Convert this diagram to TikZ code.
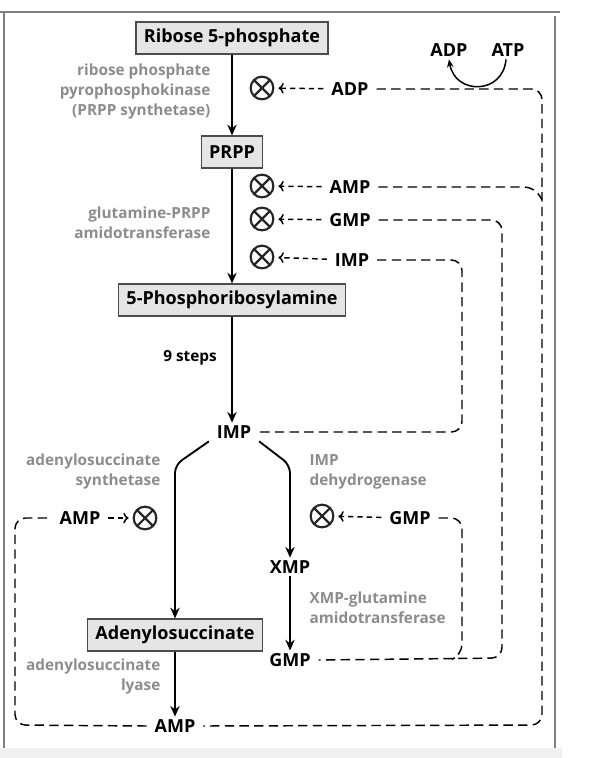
\documentclass[tikz,border=0pt]{standalone}
\usepackage{fontspec}
\setmainfont{Open Sans}
\usetikzlibrary{arrows.meta}
\definecolor{enzgray}{HTML}{8C8C8C}
\tikzset{
	cpd/.style={font=\bfseries\fontsize{13.5}{16}\selectfont, inner sep=2pt, outer xsep=4pt},
	box/.style={cpd, draw=black!70, fill=black!10, minimum height=24pt, inner xsep=6pt, outer xsep=0pt, line width=0.9pt},
	enz/.style={font=\bfseries\fontsize{11.5}{15}\selectfont, text=enzgray, align=#1, inner sep=1pt},
	enz/.default=right,
	inhib/.style={circle, draw=black!85, line width=1.6pt, minimum size=17pt, inner sep=0pt,
			path picture={\draw[line width=1.6pt, black!85]
					(path picture bounding box.north west) -- (path picture bounding box.south east)
					(path picture bounding box.north east) -- (path picture bounding box.south west);}},
	rxn/.style={-{Stealth[length=8pt,width=7pt]}, line width=1.4pt},
	fb/.style={dashed, dash pattern=on 7pt off 4pt, line width=1.1pt, rounded corners=8pt},
	fbarrow/.style={dashed, dash pattern=on 4pt off 3pt, line width=1.1pt, -{To[length=4pt,width=8pt]}, shorten >=3pt}
}
\begin{document}
\begin{tikzpicture}[x=0.75pt, y=-0.75pt]
	\useasboundingbox (0,0) rectangle (610,758);
	% frame
	\fill[black!6] (0,748) rectangle (562,758);
	\draw[black!50, line width=0.8pt] (0,12) -- (560,12);
	\draw[black!50, line width=0.8pt] (4,12) -- (4,748);
	\draw[black!50, line width=0.8pt] (555,16) -- (555,748);

	% main pathway
	\node[box] (r5p) at (232,38) {Ribose 5-phosphate};
	\node[box] (prpp) at (232,152) {PRPP};
	\node[box] (pra) at (232,300) {5-Phosphoribosylamine};
	\node[cpd] (imp) at (234,432) {IMP};
	\node[cpd] (xmp) at (290,567) {XMP};
	\node[cpd] (gmp) at (290,660) {GMP};
	\node[box] (ads) at (175,635) {Adenylosuccinate};
	\node[cpd] (amp) at (175,726) {AMP};
	\node[font=\bfseries\fontsize{11.5}{14}\selectfont] (steps) at (190,358) {9 steps};

	\draw[rxn] (r5p) -- (prpp);
	\draw[rxn] (prpp) -- (pra);
	\draw[rxn] (pra) -- (pra |- imp.north);
	\draw[rxn, rounded corners=6pt] (imp.south west) -- (175,465) -- (ads.north);
	\draw[rxn, rounded corners=6pt] (imp.south east) -- (290,465) -- (xmp.north);
	\draw[rxn] (xmp) -- (gmp);
	\draw[rxn] (ads) -- (amp);

	% enzymes
	\node[enz, anchor=east] (e1) at (212,92) {ribose phosphate\\pyrophosphokinase\\(PRPP synthetase)};
	\node[enz, anchor=east] (e2) at (212,223) {glutamine-PRPP\\amidotransferase};
	\node[enz, anchor=east] (e3) at (162,472) {adenylosuccinate\\synthetase};
	\node[enz=left, anchor=west] (e4) at (308,472) {IMP\\dehydrogenase};
	\node[enz=left, anchor=west] (e5) at (308,608) {XMP-glutamine\\amidotransferase};
	\node[enz, anchor=east] (e6) at (162,677) {adenylosuccinate\\lyase};

	% inhibition sites
	\node[inhib] (i1) at (262,88) {};
	\node[inhib] (i2) at (262,186) {};
	\node[inhib] (i3) at (262,219) {};
	\node[inhib] (i4) at (262,257) {};
	\node[inhib] (i5) at (145,518) {};
	\node[inhib] (i6) at (322,516) {};

	% effectors
	\node[cpd] (adp) at (350,89) {ADP};
	\node[cpd] (amp1) at (350,187) {AMP};
	\node[cpd] (gmp1) at (350,220) {GMP};
	\node[cpd] (imp1) at (352,260) {IMP};
	\node[cpd] (amp2) at (80,518) {AMP};
	\node[cpd] (gmp2) at (410,518) {GMP};
	\node[cpd] (adpx) at (449,50) {ADP};
	\node[cpd] (atp) at (508,50) {ATP};

	\draw[fbarrow] (adp) -- (i1);
	\draw[fbarrow] (amp1) -- (i2);
	\draw[fbarrow] (gmp1) -- (i3);
	\draw[fbarrow] (imp1) -- (i4);
	\draw[fbarrow] (amp2) -- (i5);
	\draw[fbarrow] (gmp2) -- (i6);

	% ADP from ATP
	\draw[line width=1.1pt, -{Stealth[length=6pt,width=5pt]}] (atp.south) ++(-2,0) .. controls (503,95) and (455,95) .. (adpx.south);

	% feedback loops
	\draw[fb] (adp.east) -- (542,89) -- (542,725) -- (amp.east);
	\draw[fb] (amp1.east) -- (535,187) -- (542,200);
	\draw[fb] (gmp1.east) -- (502,220) -- (502,658) -- (gmp.east);
	\draw[fb] (imp1.east) -- (462,260) -- (462,432) -- (imp.east);
	\draw[fb] (gmp2.east) -- (462,518) -- (462,655) -- (455,658);
	\draw[fb] (amp.west) -- (15,725) -- (15,518) -- (amp2.west);
\end{tikzpicture}
\end{document}
